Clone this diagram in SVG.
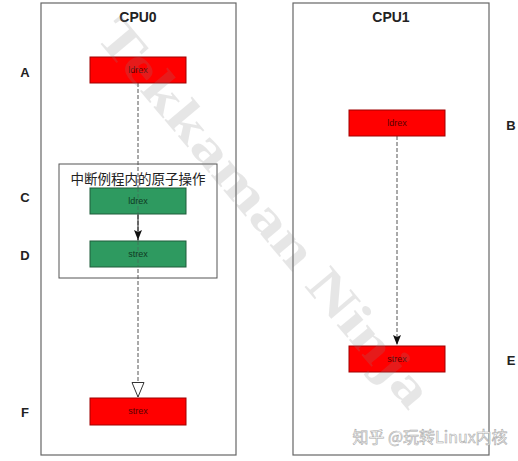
<svg xmlns="http://www.w3.org/2000/svg" width="518" height="461" viewBox="0 0 518 461">
<style>
.cpu{fill:#fff;stroke:#666;stroke-width:1.2}
.title{font-family:"Liberation Sans",Arial,sans-serif;font-weight:bold;font-size:14px;fill:#222;text-anchor:middle}
.lbl{font-family:"Liberation Sans",Arial,sans-serif;font-weight:bold;font-size:13px;fill:#222;text-anchor:middle}
.red{fill:#ff0000;stroke:#a00000;stroke-width:1}
.green{fill:#2e9a60;stroke:#1e5c3a;stroke-width:1}
.op{font-family:"Liberation Sans",Arial,sans-serif;font-size:9px;fill:#5a0000;text-anchor:middle}
.opg{font-family:"Liberation Sans",Arial,sans-serif;font-size:9px;fill:#0f3a22;text-anchor:middle}
.dash{stroke:#555;stroke-width:1;stroke-dasharray:4 2;fill:none}
.solid{stroke:#222;stroke-width:1;fill:none}
</style>
<defs>
<marker id="open" markerWidth="16" markerHeight="14" refX="15" refY="6.5" orient="auto" markerUnits="userSpaceOnUse" viewBox="0 0 16 13">
<path d="M0.5,0.5 L15,6.5 L0.5,12.5 Z" fill="#fff" stroke="#333" stroke-width="1"/>
</marker>
<marker id="filled" markerWidth="10" markerHeight="8" refX="10" refY="4" orient="auto" markerUnits="userSpaceOnUse" viewBox="0 0 10 8">
<path d="M0,0 L10,4 L0,8 L2,4 Z" fill="#111"/>
</marker>
</defs>
<rect width="518" height="461" fill="#fff"/>
<g id="cpu0">
<rect class="cpu" x="41" y="3" width="195" height="452"/>
<text class="title" x="138" y="22">CPU0</text>
</g>
<g id="cpu1">
<rect class="cpu" x="293" y="3" width="196" height="452"/>
<text class="title" x="391" y="22">CPU1</text>
</g>
<g id="labels">
<text class="lbl" x="25" y="77">A</text>
<text class="lbl" x="511" y="130">B</text>
<text class="lbl" x="25" y="202">C</text>
<text class="lbl" x="25" y="260">D</text>
<text class="lbl" x="511" y="365">E</text>
<text class="lbl" x="25" y="417">F</text>
</g>
<g id="irq">
<rect x="59" y="164" width="158" height="114" fill="#fff" stroke="#555" stroke-width="1"/>
<text x="138" y="184" font-family="'Noto Sans CJK SC',sans-serif" font-size="13.5" fill="#222" text-anchor="middle">中断例程内的原子操作</text>
</g>
<g id="connectors">
<line class="dash" x1="138" y1="83" x2="138" y2="397" marker-end="url(#open)"/>
<line class="dash" x1="397" y1="136" x2="397" y2="345" marker-end="url(#filled)"/>
<line class="solid" x1="138" y1="214" x2="138" y2="240" marker-end="url(#filled)"/>
</g>
<g id="A">
<rect class="red" x="90" y="57" width="96" height="26"/>
<text class="op" x="138" y="73">ldrex</text>
</g>
<g id="B">
<rect class="red" x="349" y="110" width="96" height="26"/>
<text class="op" x="397" y="126">ldrex</text>
</g>
<g id="C">
<rect class="green" x="90" y="188" width="96" height="26"/>
<text class="opg" x="138" y="204">ldrex</text>
</g>
<g id="D">
<rect class="green" x="90" y="241" width="96" height="26"/>
<text class="opg" x="138" y="257">strex</text>
</g>
<g id="dashover">
<line class="dash" x1="138" y1="188" x2="138" y2="214" stroke-opacity="0.5"/>
<line class="dash" x1="138" y1="241" x2="138" y2="267" stroke-opacity="0.5"/>
</g>
<g id="E">
<rect class="red" x="349" y="346" width="96" height="26"/>
<text class="op" x="397" y="362">strex</text>
</g>
<g id="F">
<rect class="red" x="90" y="398" width="96" height="27"/>
<text class="op" x="138" y="414">strex</text>
</g>
<g id="watermark" opacity="0.2">
<text x="0" y="0" transform="translate(94,36) rotate(50)" font-family="'Liberation Serif',serif" font-weight="bold" font-size="52" fill="#888" textLength="490" lengthAdjust="spacingAndGlyphs">Tekkaman Ninja</text>
</g>
<g id="zhihu">
<text x="430" y="443" font-family="'Noto Sans CJK SC',sans-serif" font-size="16" fill="#fff" stroke="#aaa" stroke-width="0.6" text-anchor="middle">知乎 @玩转Linux内核</text>
</g>
</svg>
